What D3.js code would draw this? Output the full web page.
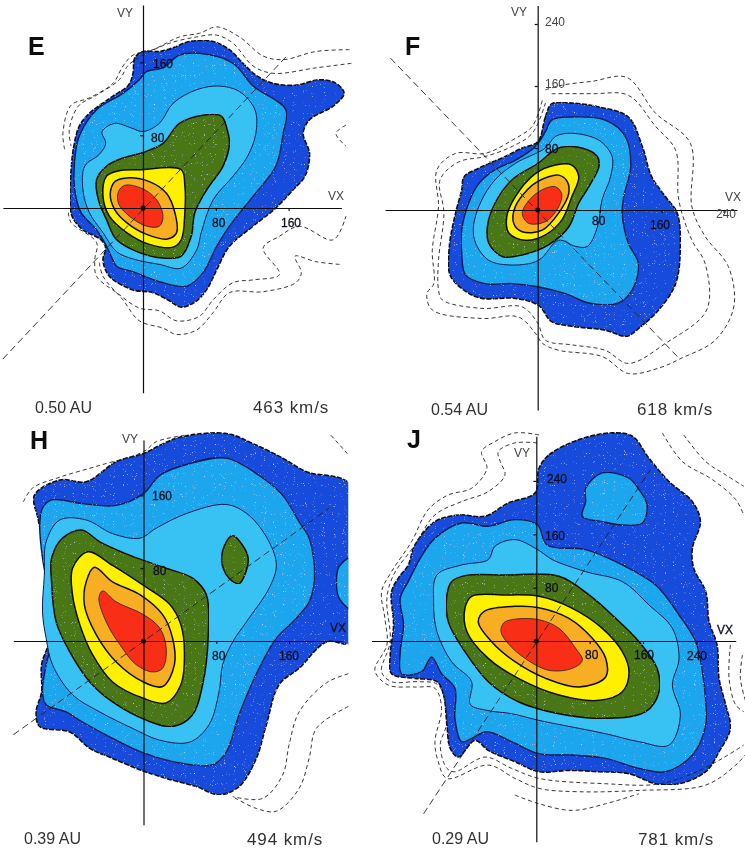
<!DOCTYPE html>
<html>
<head>
<meta charset="utf-8">
<script src="https://cdn.jsdelivr.net/npm/d3@7"></script>
<style>
html, body { margin: 0; padding: 0; background: #fff; }
svg { display: block; }
text { font-family: "Liberation Sans", Arial, sans-serif; }
</style>
</head>
<body>
<div id="chart"></div>
<script>
/* contour outlines, all as [vx, vy] in km/s */
const eOuter = [[0,172],[-9,165],[-11,148],[-16,135],[-33,123],[-59,104],[-70,90],[-76,68],[-79,42],[-80,9],[-78,-9],[-66,-24],[-46,-35],[-41,-44],[-44,-57],[-37,-75],[-11,-90],[11,-93],[29,-102],[42,-109],[59,-102],[71,-88],[81,-68],[95,-42],[121,-20],[146,0],[165,20],[178,35],[183,60],[176,82],[183,97],[209,112],[221,126],[212,137],[194,141],[168,135],[143,137],[124,146],[110,159],[95,174],[77,183],[51,183],[33,176],[18,172]];
const eBlue = [[62,170],[99,159],[121,134],[157,108],[154,82],[146,46],[121,13],[95,-20],[81,-42],[66,-71],[48,-86],[18,-81],[-11,-70],[-29,-64],[-35,-53],[-40,-42],[-51,-24],[-68,-5],[-75,20],[-75,53],[-70,79],[-51,108],[-22,126],[-4,141],[4,150],[22,154],[40,168]];
const eCyan = [[0,84],[18,93],[33,115],[59,130],[84,134],[106,128],[123,108],[124,82],[115,57],[99,35],[77,9],[64,-27],[59,-46],[42,-66],[18,-62],[-11,-56],[-29,-48],[-44,-27],[-59,-5],[-66,20],[-64,46],[-48,59],[-41,71],[-45,84],[-31,93],[-13,88]];
const eGreen = [[0,61],[22,71],[40,93],[66,102],[86,101],[92,88],[95,71],[88,46],[70,20],[57,-5],[53,-31],[42,-53],[22,-55],[-4,-49],[-29,-35],[-40,-13],[-49,9],[-51,31],[-40,46],[-22,55]];
const eYellow = [[-4,42],[42,42],[46,24],[46,-5],[42,-35],[33,-43],[7,-40],[-18,-27],[-37,-9],[-44,13],[-40,35],[-26,41]];
const eOrange = [[-18,33],[7,29],[26,16],[35,-5],[37,-27],[27,-34],[4,-29],[-18,-16],[-31,-2],[-36,15],[-31,29]];
const eRed = [[-20,25],[0,21],[15,9],[22,-9],[18,-20],[4,-20],[-15,-9],[-27,5],[-27,18]];
const eDashA = [[227,174],[190,172],[154,163],[132,167],[106,188],[81,199],[62,192],[40,188],[11,174],[-11,168],[-22,156],[-33,137],[-59,121],[-79,113],[-88,82],[-86,64]];
const eDashB = [[229,159],[190,154],[143,148],[121,156],[99,181],[81,190],[59,188],[29,181],[4,170],[-16,157],[-26,141],[-51,124],[-71,112],[-81,86],[-79,68]];
const eDashC = [[-82,-5],[-79,-16],[-51,-38],[-53,-57],[-51,-75],[-29,-93],[-4,-110],[18,-113],[37,-124],[62,-119],[77,-101],[99,-82],[121,-79],[150,-73],[132,-44],[150,-31],[172,-20],[209,-35],[223,-9]];
const eDashD = [[-48,-60],[-44,-75],[-22,-101],[-4,-124],[22,-132],[37,-139],[59,-134],[77,-115],[95,-93],[132,-92],[168,-82],[174,-71],[167,-53],[190,-59],[216,-62]];
const eDashE = [[223,91],[212,82],[223,68]];
const eDiagonal = [[-154,-166],[157,166]];

const fOuter = [[0,88],[10,120],[18,137],[44,138],[79,133],[117,120],[135,82],[147,43],[165,17],[180,-4],[184,-47],[178,-95],[156,-129],[130,-153],[115,-163],[87,-155],[44,-150],[18,-144],[1,-123],[-29,-114],[-72,-114],[-93,-105],[-113,-84],[-114,-47],[-106,-4],[-98,26],[-95,43],[-76,54],[-42,69],[-20,80]];
const fBlue = [[10,101],[18,116],[44,120],[87,116],[113,95],[120,56],[111,17],[109,-4],[117,-43],[130,-69],[122,-103],[104,-120],[66,-120],[36,-108],[0,-99],[-33,-95],[-68,-95],[-93,-84],[-98,-56],[-98,-26],[-89,9],[-76,34],[-55,52],[-29,64],[-3,82]];
const fCyan = [[10,80],[23,95],[44,99],[79,90],[96,69],[94,43],[83,13],[77,-22],[64,-47],[49,-47],[27,-39],[1,-65],[-33,-71],[-63,-65],[-80,-43],[-83,-22],[-74,9],[-55,39],[-29,60]];
const fGreen = [[0,60],[27,80],[57,80],[77,69],[79,56],[66,30],[53,9],[40,-22],[14,-45],[-20,-58],[-46,-60],[-63,-43],[-65,-22],[-55,9],[-33,39]];
const fYellow = [[23,58],[44,58],[53,43],[44,17],[31,-13],[10,-32],[-16,-39],[-37,-30],[-40,-9],[-29,17],[-3,47]];
const fOrange = [[27,45],[38,37],[40,21],[27,-4],[6,-26],[-20,-28],[-31,-17],[-29,4],[-7,32],[14,43]];
const fRed = [[23,30],[31,21],[27,4],[10,-15],[-12,-17],[-20,-4],[-7,17],[10,28]];
const fDashA = [[10,155],[31,161],[70,166],[115,171],[152,125],[197,86],[199,4],[216,-34],[246,-73],[253,-125],[229,-168],[186,-191],[156,-204],[117,-211],[83,-189],[27,-181],[6,-172],[-3,-159],[-25,-138],[-72,-140],[-136,-129],[-143,-108],[-134,-95],[-136,-52],[-128,4],[-130,52],[-106,73],[-68,73],[-33,90],[-7,108],[6,142]];
const fDashB = [[18,150],[70,150],[117,148],[152,108],[178,77],[182,13],[199,-39],[216,-69],[218,-129],[165,-172],[117,-198],[87,-181],[44,-174],[10,-168],[0,-146],[-20,-125],[-72,-127],[-123,-116],[-128,-103],[-128,-65],[-121,-4],[-126,39],[-102,62],[-68,69],[-33,82],[-7,99],[10,138]];
const fDiagonal = [[-190,196],[182,-191]];

const hOuter = [[0,206],[18,215],[40,224],[91,228],[120,217],[153,201],[179,186],[228,171],[228,-1],[201,-1],[171,-30],[149,-48],[135,-92],[124,-129],[105,-160],[83,-169],[58,-160],[25,-151],[0,-143],[-34,-129],[-59,-118],[-81,-100],[-114,-94],[-118,-78],[-112,-56],[-112,-26],[-103,3],[-107,61],[-111,109],[-116,135],[-120,160],[-92,177],[-63,175],[-30,197]];
const hBlue = [[0,162],[18,182],[51,195],[91,201],[127,182],[153,160],[171,131],[182,113],[188,72],[182,43],[164,21],[146,3],[127,-30],[105,-81],[91,-122],[76,-136],[40,-134],[0,-123],[-34,-107],[-67,-89],[-85,-78],[-107,-70],[-111,-56],[-107,-26],[-100,3],[-103,47],[-111,91],[-114,127],[-111,146],[-101,155],[-67,151],[-30,149]];
const hBluePatch = [[230,92],[215,82],[212,65],[215,47],[230,34]];
const hCyan = [[-107,109],[-92,133],[-63,133],[-34,118],[-4,113],[14,124],[47,140],[91,150],[116,138],[138,109],[146,83],[138,58],[113,21],[98,-1],[87,-26],[83,-56],[72,-92],[51,-111],[18,-109],[-12,-96],[-48,-78],[-78,-59],[-100,-26],[-107,3],[-111,32],[-109,72]];
const hGreen = [[-68,122],[-48,109],[-12,93],[25,80],[54,69],[69,51],[71,3],[65,-48],[54,-81],[32,-94],[3,-87],[-34,-67],[-59,-45],[-81,-12],[-96,21],[-101,65],[-101,91],[-89,113]];
const hGreenIsle = [[98,116],[109,105],[115,91],[111,72],[105,63],[94,69],[86,87],[89,105]];
const hYellow = [[-61,98],[-34,83],[0,61],[29,40],[41,18],[45,-12],[41,-48],[25,-68],[0,-63],[-34,-45],[-56,-15],[-70,18],[-78,51],[-78,80]];
const hOrange = [[-54,81],[-34,65],[-4,51],[21,29],[32,3],[34,-26],[21,-50],[0,-45],[-30,-23],[-52,7],[-65,40],[-63,65]];
const hRed = [[-45,55],[-30,43],[0,29],[18,14],[25,-8],[21,-30],[10,-34],[-8,-26],[-26,-4],[-41,21],[-49,47]];
const hDashA = [[225,-36],[201,-46],[171,-78],[160,-114],[153,-147],[131,-173],[98,-171]];
const hDashB = [[225,-72],[190,-96],[182,-129],[171,-162],[146,-187],[124,-184],[98,-171]];
const hDashC = [[-132,153],[-122,168],[-92,180],[-48,193],[0,208],[14,219],[45,226]];
const hDashD = [[206,226],[224,206]];
const hDiagonal = [[-143,-103],[204,146]];

const jOuter = [[4,259],[19,279],[64,302],[114,312],[144,307],[169,274],[199,239],[234,209],[246,179],[234,139],[236,109],[254,74],[259,29],[271,-6],[274,-56],[284,-96],[291,-131],[274,-166],[254,-196],[214,-214],[179,-214],[139,-199],[94,-196],[49,-194],[4,-196],[-32,-181],[-72,-164],[-92,-149],[-117,-174],[-129,-161],[-134,-126],[-139,-81],[-149,-61],[-182,-56],[-217,-49],[-219,-21],[-214,24],[-217,74],[-207,94],[-192,114],[-182,144],[-152,179],[-117,189],[-77,187],[-42,207],[-2,222]];
const jBlue = [[-112,177],[-72,172],[-32,182],[2,174],[16,144],[74,137],[129,114],[179,84],[214,39],[239,-1],[249,-46],[254,-91],[254,-126],[234,-171],[194,-196],[154,-191],[104,-176],[54,-171],[4,-169],[-37,-151],[-74,-136],[-97,-146],[-112,-151],[-122,-116],[-122,-71],[-142,-49],[-157,-24],[-172,-46],[-202,-49],[-204,-16],[-199,24],[-204,64],[-192,89],[-174,124],[-152,154]];
const jBlueIsle = [[74,229],[99,252],[139,244],[154,227],[166,204],[159,177],[129,174],[99,179],[69,187],[74,209]];
const jCyan = [[-72,122],[-62,142],[-32,152],[2,137],[24,122],[74,104],[129,89],[169,54],[204,19],[214,-26],[204,-66],[216,-111],[199,-156],[154,-151],[104,-139],[54,-129],[4,-119],[-37,-109],[-74,-104],[-99,-95],[-97,-61],[-127,-31],[-149,14],[-154,59],[-149,99],[-112,114]];
const jGreen = [[-107,98],[-47,99],[34,97],[79,69],[119,34],[154,-1],[181,-41],[184,-76],[164,-106],[104,-116],[34,-109],[-27,-91],[-72,-61],[-107,-16],[-132,29],[-134,69],[-127,89]];
const jYellow = [[-97,67],[-47,69],[4,67],[54,49],[99,19],[129,-16],[139,-46],[129,-76],[94,-89],[34,-81],[-27,-56],[-72,-26],[-104,14],[-107,49]];
const jOrange = [[-77,45],[-32,52],[4,50],[49,34],[84,4],[104,-26],[104,-54],[64,-69],[14,-56],[-32,-31],[-67,-1],[-87,29]];
const jRed = [[-37,32],[4,32],[34,19],[59,-11],[69,-29],[54,-41],[19,-44],[-17,-26],[-42,-4],[-53,14],[-49,27]];
const jDashA = [[4,309],[-32,312],[-62,299],[-82,284],[-74,259],[-97,229],[-132,219],[-162,197],[-187,149],[-217,104],[-232,74],[-227,34],[-224,-6],[-242,-44],[-222,-66],[-182,-69],[-152,-71],[-142,-101],[-152,-151],[-147,-181],[-134,-206],[-72,-186],[-32,-206],[4,-221],[64,-226],[154,-224],[254,-216],[299,-186],[313,-171]];
const jDashB = [[1,297],[-32,297],[-57,284],[-54,269],[-47,249],[-72,224],[-112,209],[-152,189],[-182,144],[-214,99],[-224,64],[-219,-1],[-232,-46],[-217,-61],[-177,-61],[-147,-66],[-134,-121],[-144,-156],[-134,-191],[-122,-196],[-77,-174],[-37,-191],[4,-206],[104,-214],[179,-215],[229,-201],[279,-176],[311,-156]];
const jDashC = [[-32,-231],[4,-244],[54,-254],[104,-244],[154,-229]];
const jDashD = [[189,312],[219,269],[264,242],[299,212],[311,189]];
const jDashE = [[221,309],[254,269],[284,249],[311,232]];
const jDashF = [[309,-21],[306,-56],[314,-91]];
const jDashG = [[291,-6],[289,-56],[299,-96],[311,-106]];
const jDiagonal = [[-169,-259],[171,257]];

const xTicksShort = [80, 160];
const xTicksLong = [80, 160, 240];
const yTicksShort = [80, 160];
const yTicksLong = [80, 160, 240];

/* level colours, outermost first */
const colors = { outer: "#174cdc", blue: "#1ba6ee", cyan: "#38c2f4", green: "#4a7716", yellow: "#fff000", orange: "#f7ae20", red: "#f82e16" };

/* screen layout of the four panels */
const panels = [
    { id: "e", ox: 143, oy: 208, k: 0.91, xdom: [-154, 218], ydom: [-203, 223], xticks: xTicksShort, yticks: yTicksShort,
      bands: [[eOuter, "outer"], [eBlue, "blue"], [eCyan, "cyan"], [eGreen, "green"], [eYellow, "yellow"], [eOrange, "orange"], [eRed, "red"]],
      dashes: [eDashA, eDashB, eDashC, eDashD, eDashE], diagonal: [eDiagonal],
      title: ["E", 28, 55], au: ["0.50 AU", 35, 413], speed: ["463 km/s", 253, 413],
      labels: [["VY", 117, 17, "a"], ["VX", 328, 200, "a"], ["160", 153, 68], ["80", 151, 142], ["80", 212, 227], ["160", 281, 227]] },
    { id: "f", ox: 537.7, oy: 210, k: 0.775, xdom: [-197, 257], ydom: [-258, 264], xticks: xTicksLong, yticks: yTicksLong,
      bands: [[fOuter, "outer"], [fBlue, "blue"], [fCyan, "cyan"], [fGreen, "green"], [fYellow, "yellow"], [fOrange, "orange"], [fRed, "red"]],
      dashes: [fDashA, fDashB], diagonal: [fDiagonal],
      title: ["F", 405, 55], au: ["0.54 AU", 431, 415], speed: ["618 km/s", 637, 415],
      labels: [["VY", 511, 16, "a"], ["VX", 725, 201, "a"], ["240", 545, 26, "a"], ["160", 545, 88, "a"], ["80", 545, 153], ["80", 592, 225], ["160", 650, 229], ["240", 716, 218, "a"]] },
    { id: "h", ox: 143.5, oy: 641, k: 0.91, xdom: [-143, 219], ydom: [-202, 221], xticks: xTicksShort, yticks: yTicksShort, clipRight: 225,
      bands: [[hOuter, "outer"], [hBlue, "blue"], [hBluePatch, "blue"], [hCyan, "cyan"], [hGreen, "green"], [hGreenIsle, "green"], [hYellow, "yellow"], [hOrange, "orange"], [hRed, "red"]],
      dashes: [hDashA, hDashB, hDashC, hDashD], diagonal: [hDiagonal],
      title: ["H", 30, 449], au: ["0.39 AU", 24, 844], speed: ["494 km/s", 247, 845],
      labels: [["VY", 122, 443, "a"], ["VX", 330, 632], ["160", 152, 500], ["80", 153, 575], ["80", 212, 660], ["160", 279, 660]] },
    { id: "j", ox: 536.3, oy: 641, k: 0.667, xdom: [-247, 299], ydom: [-301, 307], xticks: xTicksLong, yticks: yTicksLong,
      bands: [[jOuter, "outer"], [jBlue, "blue"], [jBlueIsle, "blue"], [jCyan, "cyan"], [jGreen, "green"], [jYellow, "yellow"], [jOrange, "orange"], [jRed, "red"]],
      dashes: [jDashA, jDashB, jDashC, jDashD, jDashE, jDashF, jDashG], diagonal: [jDiagonal],
      title: ["J", 407, 448], au: ["0.29 AU", 432, 844], speed: ["781 km/s", 638, 845],
      labels: [["VY", 514, 457, "a"], ["VX", 717, 634], ["240", 547, 483], ["160", 545, 540], ["80", 545, 592], ["80", 585, 659], ["160", 634, 659], ["240", 687, 660]] }
];

const W = 745, H = 855;
const svg = d3.select("#chart").append("svg").attr("width", W).attr("height", H);
const defs = svg.append("defs");

/* stippled print look on the fills */
const speckle = defs.append("filter").attr("id", "speckle")
    .attr("x", 0).attr("y", 0).attr("width", 1).attr("height", 1);
speckle.append("feTurbulence").attr("type", "fractalNoise").attr("baseFrequency", 1.1).attr("numOctaves", 1).attr("seed", 4).attr("result", "n");
speckle.append("feColorMatrix").attr("in", "n").attr("type", "matrix")
    .attr("values", "0 0 0 0 0.75  0 0 0 0 0.85  0 0 0 0 1  5 0 0 0 -3.4").attr("result", "dots");
speckle.append("feComposite").attr("in", "dots").attr("in2", "SourceAlpha").attr("operator", "in").attr("result", "clipped");
const merge = speckle.append("feMerge");
merge.append("feMergeNode").attr("in", "SourceGraphic");
merge.append("feMergeNode").attr("in", "clipped");

/* the scan is a little soft */
defs.append("filter").attr("id", "soft").attr("filterUnits", "userSpaceOnUse")
    .attr("x", 0).attr("y", 0).attr("width", W).attr("height", H)
    .append("feGaussianBlur").attr("stdDeviation", 0.4);
const root = svg.append("g").attr("filter", "url(#soft)");

function bandStyle(sel, level) {
    sel.attr("fill", colors[level]).attr("stroke", "#0d1c52");
    if (level === "outer") sel.attr("stroke-width", 1.6).attr("stroke-dasharray", "5 1.5").attr("stroke", "#111");
    else if (level === "blue") sel.attr("stroke-width", 1.4);
    else if (level === "cyan") sel.attr("stroke-width", 1);
    else if (level === "red") sel.attr("stroke-width", 0.8).attr("stroke", "#222");
    else sel.attr("stroke-width", 1.5).attr("stroke", "#0c0f08");
}

function drawPanel(p) {
    const x = d3.scaleLinear().domain(p.xdom).range([p.ox + p.k * p.xdom[0], p.ox + p.k * p.xdom[1]]);
    const y = d3.scaleLinear().domain(p.ydom).range([p.oy - p.k * p.ydom[0], p.oy - p.k * p.ydom[1]]);
    const closed = d3.line().x(d => x(d[0])).y(d => y(d[1])).curve(d3.curveCatmullRomClosed.alpha(0.5));
    const open = d3.line().x(d => x(d[0])).y(d => y(d[1])).curve(d3.curveCatmullRom.alpha(0.5));
    const g = root.append("g").attr("class", "panel-" + p.id);

    let bandG = g.append("g");
    if (p.clipRight) {
        defs.append("clipPath").attr("id", "clip-" + p.id).append("rect")
            .attr("x", 0).attr("y", 0).attr("width", x(p.clipRight)).attr("height", H);
        bandG.attr("clip-path", "url(#clip-" + p.id + ")");
    }
    bandG.selectAll("path").data(p.bands).enter().append("path")
        .attr("d", d => closed(d[0]))
        .attr("filter", d => (d[1] === "outer" || d[1] === "green" || d[1] === "blue") ? "url(#speckle)" : null)
        .each(function (d) { bandStyle(d3.select(this), d[1]); });

    /* dashed outermost contours */
    g.selectAll("path.dash").data(p.dashes).enter().append("path")
        .attr("class", "dash")
        .attr("d", open).attr("fill", "none").attr("stroke", "#222")
        .attr("stroke-width", 0.9).attr("stroke-dasharray", "4 3");

    /* symmetry direction, dashed line through the origin */
    g.selectAll("line.diag").data(p.diagonal).enter().append("line")
        .attr("class", "diag")
        .attr("x1", d => x(d[0][0])).attr("y1", d => y(d[0][1]))
        .attr("x2", d => x(d[1][0])).attr("y2", d => y(d[1][1]))
        .attr("stroke", "#222").attr("stroke-width", 0.9).attr("stroke-dasharray", "7 4");

    /* axes cross at the origin */
    const xAxis = d3.axisBottom(x).tickValues(p.xticks).tickSize(3).tickSizeOuter(0).tickFormat("");
    const yAxis = d3.axisLeft(y).tickValues(p.yticks).tickSize(3).tickSizeOuter(0).tickFormat("");
    const xG = g.append("g").attr("transform", "translate(0," + y(0) + ")").call(xAxis);
    const yG = g.append("g").attr("transform", "translate(" + x(0) + ",0)").call(yAxis);
    [xG, yG].forEach(a => {
        a.select(".domain").attr("stroke", "#111").attr("stroke-width", 1.2);
        a.selectAll(".tick line").attr("stroke", "#111").attr("stroke-width", 1.2);
    });
    g.append("circle").attr("cx", x(0)).attr("cy", y(0)).attr("r", 2.5).attr("fill", "#111");

    /* texts */
    g.append("text").attr("x", p.title[1]).attr("y", p.title[2]).text(p.title[0])
        .attr("font-size", 25).attr("font-weight", "bold").attr("fill", "#111");
    g.append("text").attr("x", p.au[1]).attr("y", p.au[2]).text(p.au[0])
        .attr("font-size", 16).attr("fill", "#333");
    g.append("text").attr("x", p.speed[1]).attr("y", p.speed[2]).text(p.speed[0])
        .attr("font-size", 17).attr("letter-spacing", 0.9).attr("fill", "#333");
    g.selectAll("text.lab").data(p.labels).enter().append("text")
        .attr("class", "lab")
        .attr("x", d => d[1]).attr("y", d => d[2]).text(d => d[0])
        .attr("font-size", 12)
        .attr("fill", d => d[3] ? "#444" : "#0c1020")
        .attr("stroke", d => d[3] ? "none" : "#0c1020")
        .attr("stroke-width", 0.3);
}

panels.forEach(drawPanel);
</script>
</body>
</html>
